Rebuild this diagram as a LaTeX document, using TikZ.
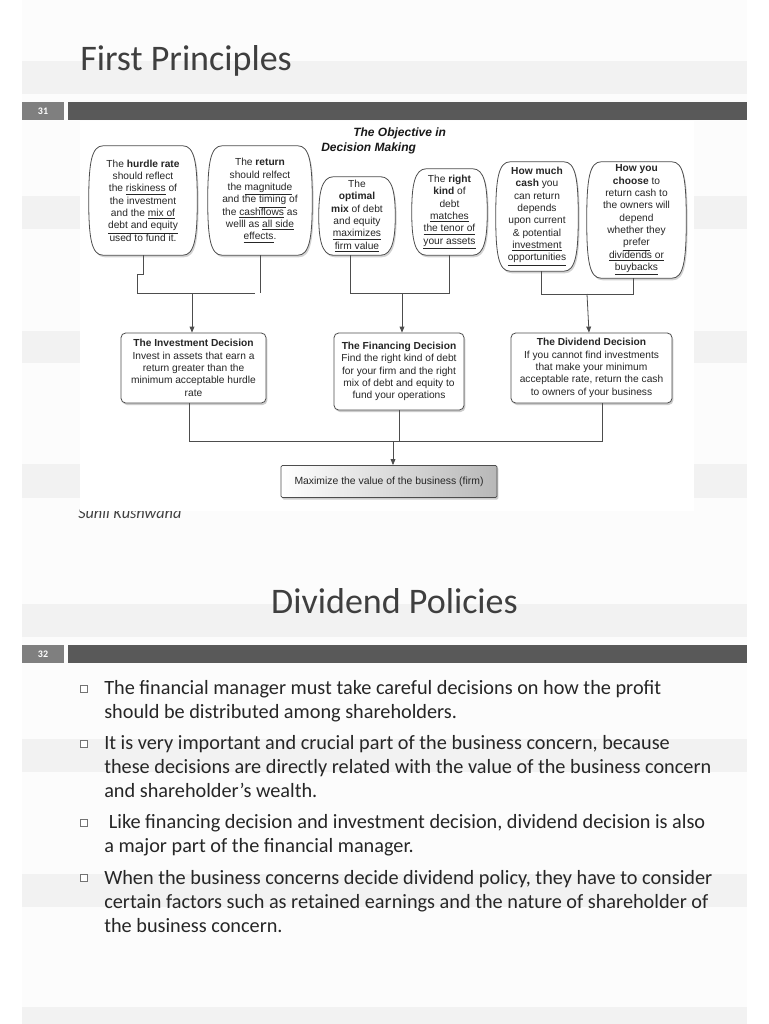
\documentclass[tikz,border=0pt]{standalone}
\usepackage{fontspec}
\setmainfont{Carlito}
\newfontfamily\arialf{Liberation Sans}
\usetikzlibrary{arrows.meta,shadows}
\definecolor{bandgray}{HTML}{F2F2F2}
\definecolor{slidebg}{HTML}{FCFCFC}
\definecolor{barfill}{HTML}{595959}
\definecolor{numfill}{HTML}{7F7F7F}
\definecolor{titlecol}{HTML}{3F3F3F}
\definecolor{bodycol}{HTML}{262626}
\definecolor{linecol}{HTML}{4D4D4D}
\pgfdeclarelayer{back}
\pgfdeclarelayer{mid}
\pgfsetlayers{back,mid,main}
\newcommand\barrelof[1]{%
  \path[barrelsty] ([xshift=11pt]#1.north west) -- ([xshift=-11pt]#1.north east)
    .. controls ([xshift=-2pt]#1.north east) and ([yshift=-13pt]#1.north east) .. (#1.east)
    .. controls ([yshift=13pt]#1.south east) and ([xshift=-2pt]#1.south east) .. ([xshift=-11pt]#1.south east)
    -- ([xshift=11pt]#1.south west)
    .. controls ([xshift=2pt]#1.south west) and ([yshift=13pt]#1.south west) .. (#1.west)
    .. controls ([yshift=-13pt]#1.north west) and ([xshift=2pt]#1.north west) .. cycle;}
\begin{document}
\begin{tikzpicture}[x=0.75pt,y=-0.75pt,
  band/.style={fill=bandgray,draw=none},
  barrelsty/.style={draw=linecol, line width=0.6pt, fill=white,
    drop shadow={shadow xshift=1pt,shadow yshift=-1.5pt,opacity=0.35}},
  idea/.style={draw=none, align=center, inner sep=0pt,
    font=\arialf\fontsize{7.65}{9.25}\selectfont, text=black!85},
  decision/.style={draw=linecol, line width=0.6pt, fill=white, rounded corners=3.5pt,
    align=center, inner sep=0pt, font=\arialf\fontsize{7.65}{9.25}\selectfont, text=black!85,
    drop shadow={shadow xshift=1pt,shadow yshift=-1.5pt,opacity=0.4}},
  link/.style={draw=linecol, line width=0.6pt},
  arr/.style={link, -{Triangle[length=4.5pt,width=3.6pt]}},
  slidetitle/.style={font=\fontsize{27}{30}\selectfont, text=titlecol, inner sep=0pt},
  numlabel/.style={font=\bfseries\fontsize{7.5}{8}\selectfont, text=white, inner sep=0pt},
  bullettext/.style={font=\fontsize{15.2}{18}\selectfont, text=bodycol, align=left, inner sep=0pt},
  sq/.style={draw=black!55, line width=0.4pt, fill=white, minimum size=5.2pt, inner sep=0pt},
]
\useasboundingbox (0,0) rectangle (768,1024);
\begin{pgfonlayer}{back}
\fill[white] (0,0) rectangle (768,1024);
\fill[slidebg] (22,0) rectangle (747,1024);
% bands, slide 31
\fill[band] (22,61) rectangle (747,94);
\fill[band] (22,196) rectangle (747,229);
\fill[band] (22,331) rectangle (747,363);
\fill[band] (22,464) rectangle (747,498);
% bands, slide 32
\fill[band] (22,604) rectangle (747,637);
\fill[band] (22,739) rectangle (747,772);
\fill[band] (22,874) rectangle (747,907);
\fill[band] (22,1007) rectangle (747,1024);
% header bars
\fill[numfill] (22,102) rectangle (64,120);
\fill[barfill] (68,102) rectangle (747,120);
\fill[numfill] (22,645) rectangle (64,663);
\fill[barfill] (68,645) rectangle (747,663);
% footer, partly hidden by the diagram picture
\node[font=\itshape\fontsize{12.2}{13}\selectfont, text=black!75, anchor=base west, inner sep=0pt] (foot) at (78,518) {Sunil Kushwaha};
\fill[white] (80,121) rectangle (694,510.5);
\end{pgfonlayer}
\node[numlabel] (n31) at (43,111.5) {31};
\node[numlabel] (n32) at (43,654.5) {32};
% titles
\node[slidetitle, anchor=base west] (t1) at (80,70) {First Principles};
\node[slidetitle, anchor=base] (t2) at (394.5,613) {Dividend Policies};
% diagram heading
\node[font=\arialf\bfseries\itshape\fontsize{9}{11}\selectfont, anchor=base west, inner sep=0pt, text=black!90] (obj1) at (353,136) {The Objective in};
\node[font=\arialf\bfseries\itshape\fontsize{9}{11}\selectfont, anchor=base west, inner sep=0pt, text=black!90] (obj2) at (321,151) {Decision Making};
% idea boxes
\node[idea, minimum width=81pt, minimum height=81.75pt] (A) at (143,200.5)
  {The \textbf{hurdle rate}\\should reflect\\the \underline{riskiness} of\\the investment\\and the \underline{mix of}\\\underline{debt and equity}\\used to fund it.};
\node[idea, minimum width=78pt, minimum height=81.75pt] (B) at (260,200.5)
  {The \textbf{return}\\should relfect\\the \underline{magnitude}\\and the \underline{timing} of\\the \underline{cashflows} as\\welll as \underline{all side}\\\underline{effects}.};
\node[idea, minimum width=57pt, minimum height=58.5pt] (C) at (357,216)
  {The\\\textbf{optimal}\\\textbf{mix} of debt\\and equity\\\underline{maximizes}\\\underline{firm value}};
\node[idea, minimum width=56.25pt, minimum height=64.5pt] (D) at (449.5,212)
  {The \textbf{right}\\\textbf{kind} of\\debt\\\underline{matches}\\\underline{the tenor of}\\\underline{your assets}};
\node[idea, minimum width=61.5pt, minimum height=81.75pt] (E) at (537,216.5)
  {\textbf{How much}\\\textbf{cash} you\\can return\\depends\\upon current\\\& potential\\\underline{investment}\\\underline{opportunities}};
\node[idea, minimum width=74.25pt, minimum height=87pt] (F) at (636.5,220)
  {\textbf{How you}\\\textbf{choose} to\\return cash to\\the owners will\\depend\\whether they\\\underline{prefer}\\\underline{dividends or}\\\underline{buybacks}};
\begin{pgfonlayer}{mid}
\barrelof{A}\barrelof{B}\barrelof{C}\barrelof{D}\barrelof{E}\barrelof{F}
\end{pgfonlayer}
% decision boxes
\node[decision, minimum width=108.75pt, minimum height=52.5pt] (Inv) at (193.5,368)
  {\textbf{The Investment Decision}\\Invest in assets that earn a\\return greater than the\\minimum acceptable hurdle\\rate};
\node[decision, minimum width=97.5pt, minimum height=57.75pt] (Fin) at (399,371.5)
  {\textbf{The Financing Decision}\\Find the right kind of debt\\for your firm and the right\\mix of debt and equity to\\fund your operations};
\node[decision, minimum width=120.75pt, minimum height=52.5pt] (Div) at (591.5,368)
  {\textbf{The Dividend Decision}\\If you cannot find investments\\that make your minimum\\acceptable rate, return the cash\\to owners of your business};
\node[decision, rounded corners=1pt, minimum width=162pt, minimum height=24pt,
  left color=white, right color=black!28, font=\arialf\fontsize{7.8}{9}\selectfont] (Max) at (389,481.5)
  {Maximize the value of the business (firm)};
% connector coordinates
\coordinate (jA) at (137,293);
\coordinate (jB) at (255,293);
\coordinate (mAB) at (192,293);
\coordinate (jC) at (350,293);
\coordinate (jD) at (449,293);
\coordinate (mCD) at (402,293);
\coordinate (jE) at (541,294);
\coordinate (jF) at (633,294);
\coordinate (mEF) at (587,294);
\coordinate (bL) at (189,441);
\coordinate (bR) at (602,441);
\coordinate (mB) at (393,441);
% top connectors
\draw[link] (A.south) -- ++(0,19) -| (jA) -- (jB);
\draw[link] (B.south) -- (B.south |- jB);
\draw[arr] (mAB) -- (mAB |- Inv.north);
\draw[link] (C.south -| jC) -- (jC) -- (jD) -- (D.south -| jD);
\draw[arr] (mCD) -- (mCD |- Fin.north);
\draw[link] (E.south -| jE) -- (jE) -- (jF) -- (F.south -| jF);
\draw[arr] (mEF) -- ([xshift=1.5pt]mEF |- Div.north);
% bottom connectors
\draw[link] (Inv.south -| bL) -- (bL) -- (bR) -- (Div.south -| bR);
\draw[link] (Fin.south) -- (Fin.south |- bL);
\draw[arr] (mB) -- (mB |- Max.north);
% bullets slide 32
\node[sq] (s1) at (83.5,688.5) {};
\node[bullettext, anchor=base west] (b1) at (104,718)
  {The financial manager must take careful decisions on how the profit\\should be distributed among shareholders.};
\node[sq] (s2) at (83.5,743.5) {};
\node[bullettext, anchor=base west] (b2) at (104,797)
  {It is very important and crucial part of the business concern, because\\these decisions are directly related with the value of the business concern\\and shareholder’s wealth.};
\node[sq] (s3) at (83.5,823) {};
\node[bullettext, anchor=base west] (b3) at (104,852)
  {\ Like financing decision and investment decision, dividend decision is also\\a major part of the financial manager.};
\node[sq] (s4) at (83.5,878) {};
\node[bullettext, anchor=base west] (b4) at (104,932)
  {When the business concerns decide dividend policy, they have to consider\\certain factors such as retained earnings and the nature of shareholder of\\the business concern.};
\end{tikzpicture}
\end{document}
